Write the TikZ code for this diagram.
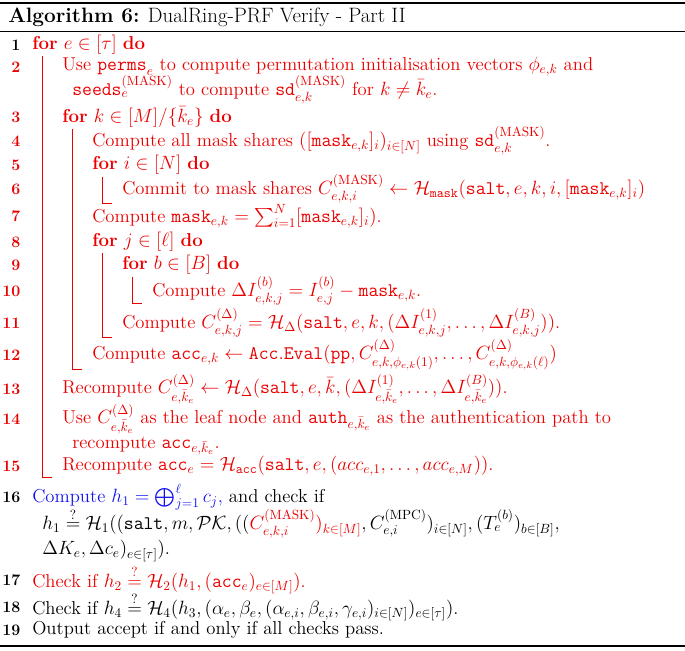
\documentclass[tikz,border=0pt]{standalone}
\usepackage{amsmath,amssymb}
\definecolor{rd}{RGB}{235,0,0}
\definecolor{bl}{RGB}{20,20,240}
\newcommand{\tw}[1]{\mathtt{#1}}
\newcommand{\kb}{\bar{k}_e}
\begin{document}
\begin{tikzpicture}[x=0.75pt,y=-0.75pt,
  ln/.style={anchor=east,font=\fontsize{12}{14}\selectfont\bfseries},
  tx/.style={anchor=west,inner sep=0pt,font=\fontsize{14}{16}\selectfont},
  rt/.style={tx,text=rd},
  bar/.style={draw=rd,line width=0.6pt}]
\useasboundingbox (0,0) rectangle (685,650);
\draw[line width=1.2pt] (0,3) -- (685,3);
\draw[line width=0.6pt] (0,31) -- (685,31);
\draw[line width=1.2pt] (0,646) -- (685,646);
\node[tx,font=\fontsize{15.6}{18}\selectfont] (title) at (8,17) {\textbf{Algorithm 6:} DualRing-PRF Verify - Part II};
% line numbers
\foreach \n/\y/\c in {1/45/black,2/67/rd,3/117/rd,4/141/rd,5/165/rd,6/189/rd,7/216/rd,8/242/rd,9/265/rd,10/291/rd,11/323/rd,12/355/rd,13/389/rd,14/419/rd,15/466/rd,16/497/black,17/580/black,18/607/black,19/630/black}
  \node[ln,text=\c] (n\n) at (25,\y) {\n};
\node[rt] (l1) at (32,45) {\textbf{for} $e\in[\tau]$ \textbf{do}};
\node[rt] (l2) at (62,67) {Use $\tw{perms}_e$ to compute permutation initialisation vectors $\phi_{e,k}$ and};
\node[rt] (l2b) at (72,90) {$\tw{seeds}_e^{(\mathrm{MASK})}$ to compute $\tw{sd}_{e,k}^{(\mathrm{MASK})}$ for $k\neq\bar{k}_e$.};
\node[rt] (l3) at (62,117) {\textbf{for} $k\in[M]/\{\bar{k}_e\}$ \textbf{do}};
\node[rt] (l4) at (92,141) {Compute all mask shares $([\tw{mask}_{e,k}]_i)_{i\in[N]}$ using $\tw{sd}_{e,k}^{(\mathrm{MASK})}$.};
\node[rt] (l5) at (92,165) {\textbf{for} $i\in[N]$ \textbf{do}};
\node[rt] (l6) at (122,189) {Commit to mask shares $C_{e,k,i}^{(\mathrm{MASK})}\leftarrow\mathcal{H}_{\tw{mask}}(\tw{salt},e,k,i,[\tw{mask}_{e,k}]_i)$};
\node[rt] (l7) at (92,216) {Compute $\tw{mask}_{e,k}=\sum_{i=1}^{N}[\tw{mask}_{e,k}]_i)$.};
\node[rt] (l8) at (92,242) {\textbf{for} $j\in[\ell]$ \textbf{do}};
\node[rt] (l9) at (122,265) {\textbf{for} $b\in[B]$ \textbf{do}};
\node[rt] (l10) at (152,291) {Compute $\Delta I_{e,k,j}^{(b)}=I_{e,j}^{(b)}-\tw{mask}_{e,k}$.};
\node[rt] (l11) at (122,323) {Compute $C_{e,k,j}^{(\Delta)}=\mathcal{H}_{\Delta}(\tw{salt},e,k,(\Delta I_{e,k,j}^{(1)},\ldots,\Delta I_{e,k,j}^{(B)}))$.};
\node[rt] (l12) at (92,355) {Compute $\tw{acc}_{e,k}\leftarrow\tw{Acc.Eval}(\tw{pp},C_{e,k,\phi_{e,k}(1)}^{(\Delta)},\ldots,C_{e,k,\phi_{e,k}(\ell)}^{(\Delta)})$};
\node[rt] (l13) at (62,389) {Recompute $C_{e,\kb}^{(\Delta)}\leftarrow\mathcal{H}_{\Delta}(\tw{salt},e,\bar{k},(\Delta I_{e,\kb}^{(1)},\ldots,\Delta I_{e,\kb}^{(B)}))$.};
\node[rt] (l14) at (62,419) {Use $C_{e,\kb}^{(\Delta)}$ as the leaf node and $\tw{auth}_{e,\kb}$ as the authentication path to};
\node[rt] (l14b) at (72,446) {recompute $\tw{acc}_{e,\kb}$.};
\node[rt] (l15) at (62,466) {Recompute $\tw{acc}_e=\mathcal{H}_{\tw{acc}}(\tw{salt},e,(acc_{e,1},\ldots,acc_{e,M}))$.};
\node[tx] (l16) at (32,497) {\textcolor{bl}{Compute $h_1=\bigoplus_{j=1}^{\ell}c_j$,} and check if};
\node[tx] (l16b) at (42,523) {$h_1\overset{?}{=}\mathcal{H}_1((\tw{salt},m,\mathcal{PK},((\textcolor{rd}{C_{e,k,i}^{(\mathrm{MASK})})_{k\in[M]}},C_{e,i}^{(\mathrm{MPC})})_{i\in[N]},(T_e^{(b)})_{b\in[B]},$};
\node[tx] (l16c) at (42,551) {$\Delta K_e,\Delta c_e)_{e\in[\tau]})$.};
\node[rt] (l17) at (32,580) {Check if $h_2\overset{?}{=}\mathcal{H}_2(h_1,(\tw{acc}_e)_{e\in[M]})$.};
\node[tx] (l18) at (32,607) {Check if $h_4\overset{?}{=}\mathcal{H}_4(h_3,(\alpha_e,\beta_e,(\alpha_{e,i},\beta_{e,i},\gamma_{e,i})_{i\in[N]})_{e\in[\tau]})$.};
\node[tx] (l19) at (32,630) {Output accept if and only if all checks pass.};
% block bars
\draw[bar] (42,56) -- (42,477) -- (52,477);
\draw[bar] (72,129) -- (72,369) -- (82,369);
\draw[bar] (102,177) -- (102,203) -- (112,203);
\draw[bar] (102,253) -- (102,337) -- (112,337);
\draw[bar] (132,277) -- (132,303) -- (142,303);
\end{tikzpicture}
\end{document}
